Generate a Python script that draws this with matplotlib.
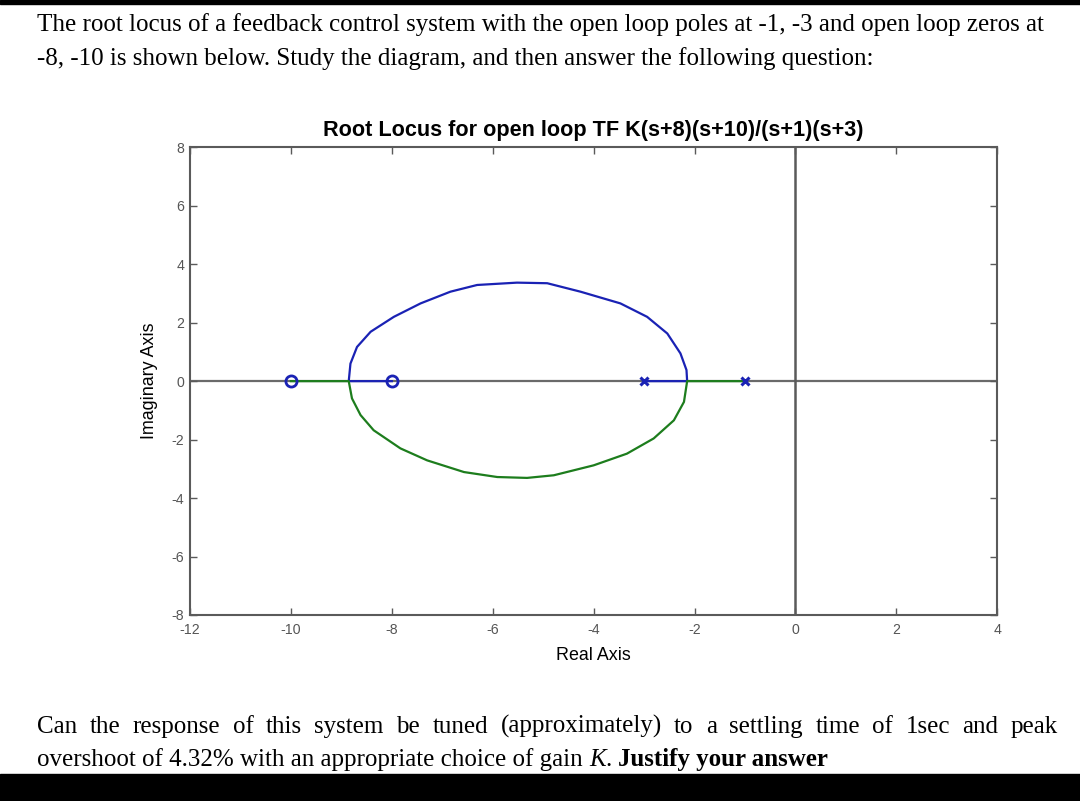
import numpy as np
import matplotlib
matplotlib.use("Agg")
import matplotlib.pyplot as plt
from matplotlib.patches import Rectangle

plt.rcParams["axes.unicode_minus"] = False
plt.rcParams["font.family"] = ["Liberation Sans", "DejaVu Sans"]

# open loop poles / zeros
zeros_re = [-10, -8]
poles_re = [-3, -1]

# branch 1 (blue): pole -3 -> breakaway -> upper arc -> zero -8
blue_re = [-3.0, -2.147, -2.16, -2.28, -2.54, -2.94, -3.47, -4.26, -4.92, -5.52,
           -6.31, -6.84, -7.43, -7.96, -8.42, -8.69, -8.82, -8.854, -8.0]
blue_im = [0.0, 0.0, 0.38, 0.95, 1.63, 2.20, 2.66, 3.06, 3.35, 3.37,
           3.29, 3.06, 2.66, 2.20, 1.69, 1.17, 0.60, 0.0, 0.0]

# branch 2 (green): pole -1 -> breakaway -> lower arc -> zero -10
green_re = [-1.0, -2.147, -2.21, -2.41, -2.81, -3.34, -4.00, -4.79, -5.32, -5.91,
            -6.57, -7.30, -7.83, -8.36, -8.62, -8.79, -8.854, -10.0]
green_im = [0.0, 0.0, -0.71, -1.34, -1.96, -2.48, -2.88, -3.22, -3.31, -3.28,
            -3.11, -2.71, -2.30, -1.68, -1.16, -0.59, 0.0, 0.0]

xticks = [-12, -10, -8, -6, -4, -2, 0, 2, 4]
yticks = [-8, -6, -4, -2, 0, 2, 4, 6, 8]

top_lines = ["The root locus of a feedback control system with the open loop poles at -1, -3 and open loop zeros at",
             "-8, -10 is shown below. Study the diagram, and then answer the following question:"]
q_line1 = "Can the response of this system be tuned (approximately) to a settling time of 1sec and peak"
q_line2 = [("overshoot of 4.32% with an appropriate choice of gain ", "normal", "normal"),
           ("K", "italic", "normal"),
           (". ", "normal", "normal"),
           ("Justify your answer", "normal", "bold")]

W, H = 1080, 801
fig = plt.figure(figsize=(W / 100, H / 100), dpi=100)
fig.patch.set_facecolor("white")

ax = fig.add_axes([190 / W, 1 - 615 / H, (997.3 - 190) / W, (615 - 147.3) / H])
grey = "#5a5a5a"
ax.axhline(0, color="#6a6a6a", lw=1.6, zorder=1)
ax.axvline(0, color="#5a5a5a", lw=1.8, zorder=1)

blue = "#1a22b4"
green = "#1d7d1d"
ax.plot(blue_re, blue_im, color=blue, lw=1.6, zorder=3)
ax.plot(green_re, green_im, color=green, lw=1.6, zorder=3)
ax.plot(zeros_re, [0] * len(zeros_re), "o", mfc="none", mec=blue, mew=2.0, ms=8, zorder=4)
ax.plot(poles_re, [0] * len(poles_re), "x", color=blue, mew=2.2, ms=6, zorder=4)

ax.set_xlim(-12, 4)
ax.set_ylim(-8, 8)
ax.set_xticks(xticks)
ax.set_yticks(yticks)
ax.tick_params(direction="in", length=5, width=1, colors=grey, labelcolor="#555555",
               labelsize=10.2, top=True, right=True)
ax.tick_params(axis="x", pad=6)
ax.tick_params(axis="y", pad=4)
for s in ax.spines.values():
    s.set_color(grey)
    s.set_linewidth(1.5)

ax.set_title("Root Locus for open loop TF K(s+8)(s+10)/(s+1)(s+3)",
             fontsize=15.6, fontweight="bold", pad=8, x=(593 - 190) / (997.3 - 190))
ax.set_xlabel("Real Axis", fontsize=12.9, labelpad=7)
ax.set_ylabel("Imaginary Axis", fontsize=12.9, labelpad=10)

# black bars
fig.add_artist(Rectangle((0, 1 - 4 / H), 1, 4 / H, transform=fig.transFigure, color="black"))
fig.add_artist(Rectangle((0, 0), 1, (H - 774) / H, transform=fig.transFigure, color="black"))

renderer = fig.canvas.get_renderer()
serif = "Liberation Serif"
fs = 18


def put_words(text, x0, ybase, x1):
    # spread the words so the line is justified between x0 and x1
    arts = [fig.text(0, 0, w, fontsize=fs, family=serif, va="baseline", ha="left")
            for w in text.split()]
    widths = [a.get_window_extent(renderer).width for a in arts]
    sp = (x1 - x0 - sum(widths)) / (len(arts) - 1)
    x = x0
    for a, w in zip(arts, widths):
        a.set_position((x / W, 1 - ybase / H))
        x += w + sp


for i, line in enumerate(top_lines):
    fig.text(37 / W, 1 - (31 + 34 * i) / H, line, fontsize=fs, family=serif,
             va="baseline", ha="left")

put_words(q_line1, 37, 733, 1058)
x = 37
for txt, style, weight in q_line2:
    t = fig.text(x / W, 1 - 766 / H, txt, fontsize=fs, family=serif, style=style,
                 weight=weight, va="baseline", ha="left")
    x += t.get_window_extent(renderer).width

fig.savefig("out.png", dpi=100)
